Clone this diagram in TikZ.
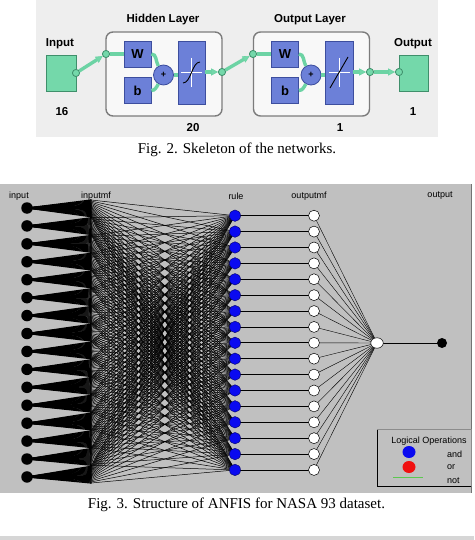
\documentclass[tikz,border=0pt]{standalone}
\usepackage{fontspec}
\setmainfont{Liberation Serif}
\newfontfamily\uisans{Liberation Sans}
\usetikzlibrary{arrows.meta,shapes.geometric}
\definecolor{panelA}{HTML}{EEEEEE}
\definecolor{mint}{HTML}{74D8AA}
\definecolor{mintdk}{HTML}{3F8F6B}
\definecolor{mintline}{HTML}{6CD3A4}
\definecolor{bluebox}{HTML}{6C80D8}
\definecolor{blueedge}{HTML}{3D4E9E}
\definecolor{layerfill}{HTML}{F8F8F8}
\definecolor{layeredge}{HTML}{7C7C7C}
\definecolor{anfisbg}{HTML}{C0C0C0}
\definecolor{stripgray}{HTML}{D6D6D6}
\definecolor{rulblue}{HTML}{0A0AF0}
\definecolor{legred}{HTML}{F01010}
\definecolor{leggreen}{HTML}{5CC850}
\pgfdeclarelayer{back}
\pgfdeclarelayer{lines}
\pgfsetlayers{back,lines,main}
\tikzset{
  toplbl/.style={font=\uisans\bfseries\fontsize{11.5}{13}\selectfont, inner sep=0pt},
  greenbox/.style={draw=mintdk, fill=mint, line width=0.8pt, minimum width=30pt, minimum height=36pt, inner sep=0pt},
  layerbox/.style={draw=layeredge, fill=layerfill, line width=1.4pt, rounded corners=7pt, minimum width=116pt, minimum height=84pt, inner sep=0pt},
  bluesq/.style={draw=blueedge, fill=bluebox, line width=0.8pt, minimum width=27pt, minimum height=26pt, inner sep=0pt, font=\uisans\bfseries\fontsize{13}{14}\selectfont},
  tfbox/.style={draw=blueedge, fill=bluebox, line width=0.8pt, minimum width=27pt, minimum height=63pt, inner sep=0pt},
  plusnode/.style={circle, draw=blueedge, fill=bluebox, line width=0.8pt, minimum size=20pt, inner sep=0pt, font=\uisans\bfseries\fontsize{9}{9}\selectfont},
  port/.style={circle, draw=mintdk, fill=mint, line width=0.7pt, minimum size=7pt, inner sep=0pt},
  greenline/.style={draw=mintline, line width=3.4pt},
  gtip/.style={-{Triangle[length=7pt,width=7pt,fill=mint,line width=0.6pt]}},
  anlbl/.style={font=\uisans\fontsize{9}{10}\selectfont, inner sep=0pt},
  indot/.style={circle, fill=black, inner sep=0pt, minimum size=11.5pt},
  mfnode/.style={circle, fill=black, inner sep=0pt, minimum size=1.6pt},
  rulenode/.style={ellipse, draw=black!60!blue, fill=rulblue, line width=0.4pt, inner sep=0pt, minimum width=11pt, minimum height=11.5pt},
  omfnode/.style={circle, draw=black, fill=white, line width=0.5pt, inner sep=0pt, minimum size=11pt},
  aggnode/.style={ellipse, draw=black, fill=white, line width=0.5pt, inner sep=0pt, minimum width=12.5pt, minimum height=10.5pt},
  outdot/.style={circle, fill=black, inner sep=0pt, minimum size=10pt},
  wedge/.style={draw=black, line width=1.2pt},
  mesh/.style={draw=black, line width=0.5pt},
  caption/.style={font=\fontsize{15}{17}\selectfont, inner sep=0pt}
}
\begin{document}
\begin{tikzpicture}[x=1pt,y=-1pt]
\useasboundingbox (0,0) rectangle (474,540);
\begin{pgfonlayer}{back}
  \fill[panelA] (36,0) rectangle (438,137);
  \fill[anfisbg] (0,184) rectangle (471,493);
  \draw[black!55, line width=0.8pt] (471,184) -- (471,493);
  \fill[stripgray] (0,536) rectangle (474,540);
\end{pgfonlayer}

% ---------------- Fig. 2 ----------------
\node[greenbox] (inbox) at (61,73) {};
\node[toplbl] (inlbl) at (60,44) {Input};
\node[toplbl] (n16) at (62,112) {16};

\node[layerbox] (hid) at (164,74) {};
\node[toplbl] (hidlbl) at (163,20) {Hidden Layer};
\node[bluesq] (W1) at (137.5,54) {W};
\node[bluesq] (b1) at (137.5,90.5) {b};
\node[plusnode] (p1) at (163.5,75) {+};
\node[tfbox] (f1) at (191.5,72.5) {};
\node[toplbl] (n20) at (193,128) {20};

\node[layerbox] (olay) at (311.5,74) {};
\node[toplbl] (olaylbl) at (310,20) {Output Layer};
\node[bluesq] (W2) at (285,54) {W};
\node[bluesq] (b2) at (285,90.5) {b};
\node[plusnode] (p2) at (311,75) {+};
\node[tfbox, minimum width=28pt] (f2) at (339,72.5) {};
\node[toplbl] (n1a) at (340,128) {1};

\node[greenbox, minimum width=29pt] (outbox) at (413.5,73) {};
\node[toplbl] (outlbl) at (413,44) {Output};
\node[toplbl] (n1b) at (413,112) {1};

% transfer icons
\draw[white, line width=0.4pt] (181,72.5) -- (202,72.5) (191.5,58) -- (191.5,87);
\draw[black, line width=0.9pt] (183,83) .. controls (191,83) and (192,62) .. (200,62);
\draw[white, line width=0.4pt] (329,72.5) -- (350,72.5) (339,58) -- (339,87);
\draw[black, line width=0.9pt] (330,88) -- (348,57);

% ports and green connectors
\node[port] (ip) at (76,73) {};
\node[port] (hin) at (106,54) {};
\node[port] (hout) at (222,72) {};
\node[port] (oin) at (253,54) {};
\node[port] (oout) at (370,72) {};
\node[port] (outp) at (399,72) {};
\draw[greenline, gtip] (ip) -- (hin);
\draw[greenline] (hin) -- (W1);
\draw[greenline] (W1.east) to[out=0, in=120] (p1);
\draw[greenline] (b1.east) to[out=0, in=-120] (p1);
\draw[greenline] (p1) -- (p1 -| f1.west);
\draw[greenline, gtip] (f1.east |- hout) -- (hout);
\draw[greenline, gtip] (hout) -- (oin);
\draw[greenline] (oin) -- (W2);
\draw[greenline] (W2.east) to[out=0, in=120] (p2);
\draw[greenline] (b2.east) to[out=0, in=-120] (p2);
\draw[greenline] (p2) -- (p2 -| f2.west);
\draw[greenline, gtip] (f2.east |- oout) -- (oout);
\draw[greenline, gtip] (oout) -- (outp);
\node[port] at (ip) {};
\node[port] at (hin) {};
\node[port] at (hout) {};
\node[port] at (oin) {};
\node[port] at (oout) {};
\node[port] at (outp) {};

\node[caption] (cap2) at (237,150) {Fig. 2. Skeleton of the networks.};

% ---------------- Fig. 3 ----------------
\node[anlbl] (linput) at (19,196) {input};
\node[anlbl] (linmf) at (96,196) {inputmf};
\node[anlbl] (lrule) at (236,196) {rule};
\node[anlbl] (loutmf) at (309,196) {outputmf};
\node[anlbl] (loutput) at (440,196) {output};

\foreach \j in {0,...,15} {
  \node[indot] (in\j) at (27,{208+17.93*\j}) {};
}
\foreach \i in {0,...,16} {
  \node[rulenode] (r\i) at (235,{215.7+15.89*\i}) {};
  \node[omfnode] (o\i) at (314,{215.7+15.89*\i}) {};
}
\foreach \j in {0,...,15} {
  \foreach \i in {0,...,16} {
    \node[mfnode] (m\j-\i) at (91,{200+17.753*\j+1.0443*\i}) {};
  }
}
\node[aggnode] (agg) at (377,343) {};
\node[outdot] (outn) at (442,343) {};

\begin{pgfonlayer}{lines}
\foreach \j in {0,...,15} {
  \foreach \i in {0,...,16} {
    \draw[wedge] (in\j.center) -- (m\j-\i.center);
    \draw[mesh] (m\j-\i.center) -- (r\i.center);
  }
}
\foreach \i in {0,...,16} {
  \draw[black, line width=0.8pt] (r\i.center) -- (o\i.center);
  \draw[black, line width=0.4pt] (o\i.center) -- (agg.center);
}
\draw[black, line width=0.7pt] (agg.center) -- (outn.center);
\end{pgfonlayer}

% legend
\fill[anfisbg] (377,429) rectangle (471,486);
\draw[black, line width=0.9pt] (377,429) -- (377,486) -- (471,486);
\draw[black!45, line width=0.7pt] (377,429) -- (471,429) -- (471,486);
\node[anlbl] (legtitle) at (429,441) {Logical Operations};
\node[ellipse, fill=rulblue, inner sep=0pt, minimum width=13pt, minimum height=12pt] (legand) at (409,452) {};
\node[ellipse, fill=legred, inner sep=0pt, minimum width=13pt, minimum height=12pt] (legor) at (409,467) {};
\coordinate (legnotA) at (393,477.5);
\coordinate (legnotB) at (423,477.5);
\draw[leggreen, line width=1.1pt] (legnotA) -- (legnotB);
\node[anlbl, anchor=west] (tand) at (447,454) {and};
\node[anlbl, anchor=west] (tor) at (447,467) {or};
\node[anlbl, anchor=west] (tnot) at (447,480.5) {not};

\node[caption] (cap3) at (236.5,505) {Fig. 3. Structure of ANFIS for NASA 93 dataset.};
\end{tikzpicture}
\end{document}
